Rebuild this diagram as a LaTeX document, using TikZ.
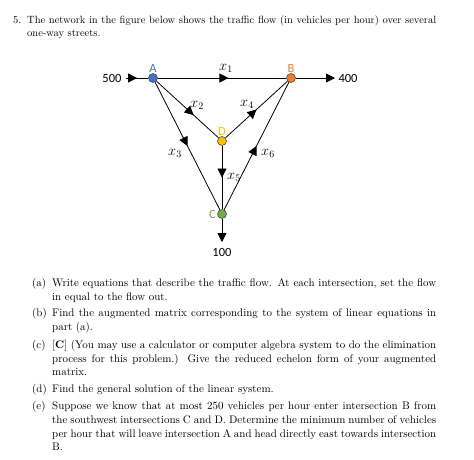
\documentclass[tikz,border=0pt]{standalone}
\usepackage{fontspec}
\newfontfamily\diagfont{Carlito}
\usetikzlibrary{arrows.meta,decorations.markings}
\definecolor{nodeA}{RGB}{68,114,196}
\definecolor{nodeB}{RGB}{237,125,49}
\definecolor{nodeC}{RGB}{112,173,71}
\definecolor{nodeD}{RGB}{255,192,0}
\tikzset
{
  junction/.style = {circle, draw=black!70, line width=0.6pt, inner sep=0pt, minimum size=9pt},
  street/.style   = {line width=0.8pt, postaction={decorate},
                     decoration={markings, mark=at position #1 with {\arrow{Triangle[length=9pt,width=9pt]}}}},
  street/.default = 0.55,
  outlet/.style   = {line width=0.8pt, -{Triangle[length=9pt,width=9pt]}},
  flowlabel/.style = {font=\diagfont\fontsize{12.5}{14}\selectfont, inner sep=0pt},
  varlabel/.style = {font=\fontsize{14}{16}\selectfont, inner sep=0pt},
  question/.style = {anchor=north west, inner sep=0pt, align=justify, font=\fontsize{10.95}{13.6}\selectfont}
}
\newcommand{\hangitem}[2]{\makebox[#1][l]{#2}\hangindent=#1\hangafter=1\ignorespaces}

\begin{document}
\begin{tikzpicture}[x=1pt,y=-1pt]
  \useasboundingbox (0,0) rectangle (474,460);
  % intersections
  \node [junction, fill=nodeA] (A) at (153,78) {};
  \node [junction, fill=nodeB] (B) at (291,78) {};
  \node [junction, fill=nodeD] (D) at (222,141) {};
  \node [junction, fill=nodeC] (C) at (222,214) {};
  \node [flowlabel, text=nodeA, anchor=south] (labA) at (153,73) {A};
  \node [flowlabel, text=nodeB, anchor=south] (labB) at (291,73) {B};
  \node [flowlabel, text=nodeD, anchor=south] (labD) at (222,136) {D};
  \node [flowlabel, text=nodeC, anchor=east] (labC) at (216,214) {C};
  % outside flows
  \coordinate (in) at (126,78);
  \coordinate (out) at (335,78);
  \coordinate (down) at (222,242);
  \node [flowlabel] (n500) at (112,78) {500};
  \node [flowlabel] (n400) at (348,78) {400};
  \node [flowlabel] (n100) at (222,252) {100};
  \draw [street=0.5] (in) -- (A);
  \draw [outlet] (B) -- (out);
  \draw [outlet] (C) -- (down);
  % streets
  \draw [street=0.55] (A) -- (B);
  \draw [street=0.6] (A) -- (D);
  \draw [street=0.5] (D) -- (B);
  \draw [street=0.5] (A) -- (C);
  \draw [street=0.5] (C) -- (B);
  \draw [street=0.5] (D) -- (C);
  \node [varlabel] (f1) at (226,68) {$x_1$};
  \node [varlabel] (f2) at (197,105) {$x_2$};
  \node [varlabel] (f3) at (175,153) {$x_3$};
  \node [varlabel] (f4) at (247,104) {$x_4$};
  \node [varlabel] (f5) at (234,177) {$x_5$};
  \node [varlabel] (f6) at (268,153) {$x_6$};
  % problem text
  \node [question, text width=423pt, font=\fontsize{10.5}{13}\selectfont] (intro) at (13,15)
    {\hangitem{14pt}{5.}The network in the figure below shows the traffic flow (in vehicles per hour) over several one-way streets.\par};
  \node [question, text width=404pt] (qa) at (32,278)
    {\hangitem{20pt}{(a)}Write equations that describe the traffic flow. At each intersection, set the flow in equal to the flow out.\par};
  \node [question, text width=404pt] (qb) at (32,308)
    {\hangitem{20pt}{(b)}Find the augmented matrix corresponding to the system of linear equations in part (a).\par};
  \node [question, text width=404pt] (qc) at (32,340)
    {\hangitem{20pt}{(c)}[\textbf{C}] (You may use a calculator or computer algebra system to do the elimination process for this problem.) Give the reduced echelon form of your augmented matrix.\par};
  \node [question, text width=404pt] (qd) at (32,384)
    {\hangitem{20pt}{(d)}Find the general solution of the linear system.\par};
  \node [question, text width=404pt] (qe) at (32,401.5)
    {\hangitem{20pt}{(e)}Suppose we know that at most 250 vehicles per hour enter intersection B from the southwest intersections C and D. Determine the minimum number of vehicles per hour that will leave intersection A and head directly east towards intersection B.\par};
\end{tikzpicture}
\end{document}
